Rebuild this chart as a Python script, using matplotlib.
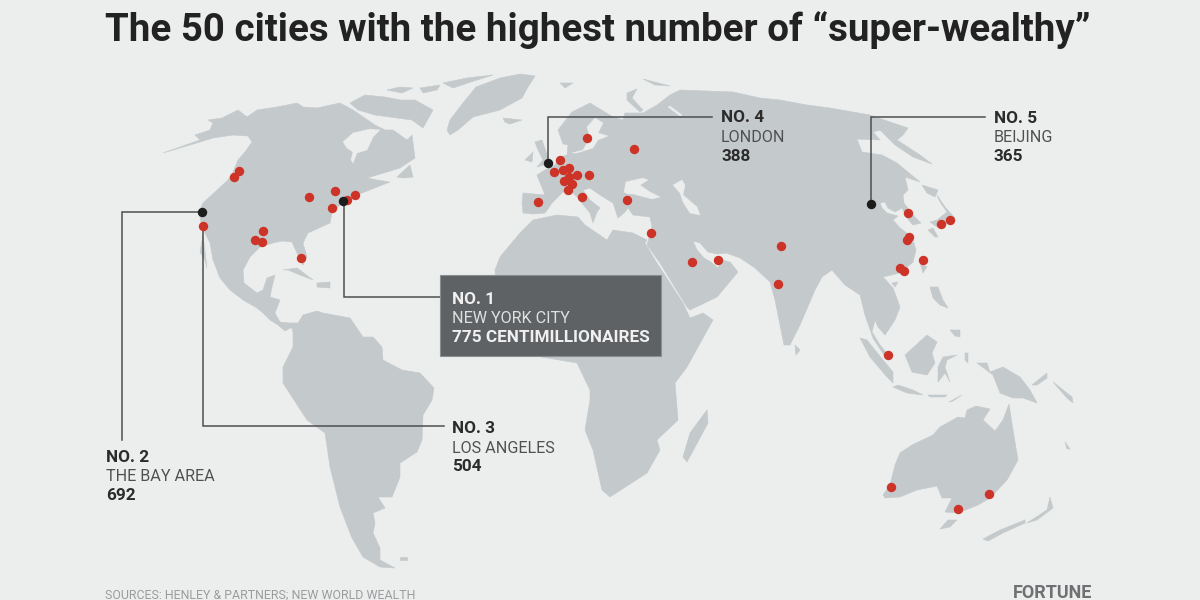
import matplotlib
matplotlib.use('Agg')
import matplotlib.pyplot as plt

BG = '#eceeed'
LAND = '#c4c9cb'
RED = '#cd3327'
DARK = '#1c1c1c'
LINE = '#4c4e50'
NARROW = ['Roboto', 'DejaVu Sans']

# land outlines in pixels
north_america = [(163,153),(200,142),(213,138),(233,135),(248,136),(252,142),(245,152),(238,160),(233,172),(228,180),
    (203,203),(199,212),(202,227),(210,243),(213,260),(220,278),(230,290),(243,300),(257,308),(262,312),(270,320),(278,325),
    (285,331),(294,326),(290,323),(280,322),(275,313),(280,300),(270,297),(272,287),(275,275),(267,278),(263,290),(257,293),
    (244,283),(243,270),(250,257),(260,247),(273,243),(282,241),(292,242),(297,253),(303,265),(307,257),(303,243),(308,233),
    (330,223),(332,213),(343,202),(352,197),(372,189),(390,182),(377,180),(367,178),(387,172),(400,168),(415,158),(412,135),
    (407,140),(393,130),(385,130),(375,125),(353,110),(340,103),(317,108),(303,107),(297,103),(277,107),(257,110),(247,117),
    (238,110),(222,118),(208,120),(213,123),(210,130),(195,135),(200,140)]
south_america = [(290,323),(298,323),(303,315),(317,311),(323,313),(350,318),(363,337),(373,337),(382,347),(383,360),(402,370),
    (420,373),(434,388),(432,400),(423,415),(422,440),(417,452),(400,463),(400,477),(392,497),(378,497),(385,508),(373,513),
    (375,523),(373,533),(380,548),(380,560),(395,568),(380,567),(363,557),(352,538),(340,507),(330,467),(325,433),(307,420),
    (283,383),(283,367),(293,347),(293,332)]
eurasia = [(523,193),(545,195),(537,175),(545,170),(555,165),(560,157),(567,155),(568,145),(563,144),(562,141),(558,130),
    (572,112),(590,103),(613,117),(623,120),(625,113),(643,113),(657,105),(670,95),(680,90),(733,92),
    (760,98),(780,100),(807,105),(830,108),(870,115),(890,122),(908,128),(903,135),(897,140),(920,155),(932,164),(913,157),
    (895,145),(880,130),(873,132),(880,140),(857,139),(862,152),(882,155),(897,163),(920,182),(905,177),(908,190),(903,195),
    (904,203),(913,215),(921,223),(913,225),(907,218),(902,208),(895,212),(888,208),(885,202),(880,203),(882,208),(887,213),
    (898,216),(893,220),(900,228),(912,237),(916,250),(913,262),(900,273),(883,277),(893,288),(900,307),(895,320),(885,335),
    (878,327),(875,320),(872,332),(880,345),(890,357),(884,355),(873,338),(865,315),(860,295),(845,285),(832,270),(822,277),
    (815,290),(800,325),(790,345),(784,345),(775,300),(770,282),(755,268),(740,258),(726,253),(717,254),(708,252),(700,243),
    (693,241),(697,250),(704,258),(711,262),(718,268),(722,260),(730,262),(738,272),(717,297),(690,310),(687,307),(660,263),
    (647,245),(652,227),(650,217),(633,215),(628,208),(625,212),(618,218),(613,203),(600,195),(590,188),(583,190),(590,200),
    (600,208),(597,212),(593,223),(590,213),(577,197),(572,192),(563,192),(552,203),(545,213),(533,214),(523,213),(522,203)]
africa = [(500,257),(520,233),(533,220),(557,215),(578,217),(585,225),(607,240),(613,230),(633,233),(647,240),(645,243),(655,260),
    (668,280),(683,303),(690,318),(703,313),(713,320),(687,367),(675,383),(678,420),(657,440),(660,450),(647,473),(610,497),
    (602,490),(593,450),(585,430),(590,400),(590,390),(577,363),(530,355),(497,310),(495,270)]
australia = [(883,495),(890,485),(895,465),(900,453),(912,445),(933,435),(940,427),(958,417),(965,418),(967,410),(976,406),
    (990,409),(983,420),(995,431),(1003,420),(1009,404),(1013,430),(1018,460),(1007,480),(990,498),(978,505),(958,513),
    (945,512),(952,498),(942,498),(937,486),(917,490),(900,497),(885,498)]
greenland = [(447,130),(450,120),(463,103),(476,87),(500,78),(520,74),(535,76),(528,87),(522,98),(500,110),(473,117),(458,130),(450,135)]
islands = [
    [(350,103),(365,95),(385,97),(400,100),(415,100),(433,110),(423,128),(412,120),(397,118),(375,115),(358,110)],
    [(387,90),(400,87),(413,88),(402,93)],
    [(443,83),(467,78),(493,75),(477,80),(453,88)],
    [(420,88),(440,85),(437,90),(423,93)],
    [(283,270),(297,268),(313,280),(300,275),(288,270)],
    [(317,283),(330,282),(330,288),(317,287)],
    [(203,235),(207,268),(205,260),(200,252)],
    [(397,177),(410,165),(413,177),(403,178)],
    [(400,557),(407,557),(407,560),(400,560)],
    [(707,410),(708,423),(687,462),(683,457),(690,433)],
    [(537,167),(543,160),(538,150),(535,142),(542,140),(550,163)],
    [(525,160),(533,152),(532,162)],
    [(503,118),(522,120),(510,124),(505,122)],
    [(627,93),(637,89),(632,98),(643,110),(640,112),(627,100)],
    [(643,79),(670,86),(655,85)],
    [(560,83),(573,83),(565,88)],
    [(940,529),(948,520),(957,520),(950,527)],
    [(983,539),(1000,530),(1025,520),(1025,523),(1003,533),(988,541)],
    [(1027,523),(1047,510),(1050,497),(1053,508),(1037,520)],
    [(977,363),(987,363),(990,372),(1003,367),(1020,377),(1030,390),(1037,403),(1023,398),(1013,398),(1000,393),(993,375)],
    [(905,355),(927,335),(937,342),(932,353),(935,363),(927,375),(912,372)],
    [(938,382),(938,367),(943,357),(957,355),(947,360),(945,367),(950,382),(945,373)],
    [(860,338),(867,340),(883,360),(893,372),(893,383),(887,377),(870,357)],
    [(893,387),(898,385),(913,390),(923,395),(907,393)],
    [(928,395),(947,395),(945,397),(930,397)],
    [(949,402),(962,395),(953,401)],
    [(965,353),(968,353),(968,363),(965,360)],
    [(950,330),(960,330),(960,337),(955,336)],
    [(930,287),(938,287),(943,300),(948,308),(940,305),(933,298)],
    [(920,263),(927,267),(923,273)],
    [(892,283),(898,282),(895,287)],
    [(795,345),(800,350),(796,355)],
    [(930,222),(937,220),(947,212),(940,202),(937,195),(945,207),(955,218),(947,223),(937,227)],
    [(928,230),(933,228),(938,237),(935,237)],
    [(922,185),(938,190),(935,197),(927,193)],
    [(1032,385),(1047,373),(1047,378),(1037,385)],
    [(1053,382),(1072,397),(1073,403),(1067,398)],
    [(1065,442),(1070,449),(1067,449)],
]
seas = [
    [(624,192),(626,182),(643,178),(648,180),(640,185),(650,192),(660,197),(652,199),(633,194),(628,194)],
    [(673,185),(682,180),(685,185),(683,195),(697,207),(700,215),(690,213),(683,202),(680,193)],
    [(572,153),(583,150),(590,138),(587,127),(595,118),(603,123),(598,133),(608,136),(598,140),(593,148),(577,153)],
    [(343,142),(353,133),(370,129),(380,130),(373,137),(367,150),(357,153),(353,163),(351,160),(353,152),(347,148)],
    [(670,106),(682,115),(680,116),(668,107)],
]

# cities
red_x = [239,234,309,335,332,347,355,203,263,255,262,301,587,634,560,554,563,569,577,589,569,564,572,568,582,538,627,651,692,718,
         781,778,908,941,950,909,907,923,900,904,888,891,958,989]
red_y = [171,177,197,191,208,200,195,226,231,240,242,258,138,149,160,172,170,168,175,175,177,181,184,190,197,202,200,233,262,260,
         246,284,213,224,220,237,240,260,268,271,355,487,509,494]
top5_x = [343,202,548,871]
top5_y = [201,212,163,204]

# leader lines
leader_ny = ([343.7,343.7,440], [201,296.5,296.5])
leader_bay = ([202,122.3,122.3], [212,212,440])
leader_la = ([202.8,202.8,444], [226,426,426])
leader_london = ([547.7,547.7,711.7], [163,116.7,116.7])
leader_beijing = ([871.3,871.3,985], [204,116.7,116.7])

labels = [
    (452, [304.3,323.3,342.3], ['NO. 1','NEW YORK CITY','775 CENTIMILLIONAIRES'], '#f0f0f0', '#dfe1e1'),
    (106, [461.7,481,500], ['NO. 2','THE BAY AREA','692'], '#2b2b2b', '#505050'),
    (452, [433,452.7,471], ['NO. 3','LOS ANGELES','504'], '#2b2b2b', '#505050'),
    (721, [121.7,141.7,160.7], ['NO. 4','LONDON','388'], '#2b2b2b', '#505050'),
    (994, [122.7,141.7,161], ['NO. 5','BEIJING','365'], '#2b2b2b', '#505050'),
]

fig = plt.figure(figsize=(12, 6), dpi=100, facecolor=BG)
ax = fig.add_axes([0, 0, 1, 1])
ax.set_xlim(0, 1200)
ax.set_ylim(600, 0)
ax.axis('off')

for shape in [north_america, south_america, eurasia, africa, australia, greenland] + islands:
    ax.fill(*zip(*shape), facecolor=LAND, edgecolor=LAND, lw=0.4, joinstyle='round', zorder=1)
for shape in seas:
    ax.fill(*zip(*shape), facecolor=BG, edgecolor=BG, lw=0.3, joinstyle='round', zorder=2)

for xs, ys in [leader_ny, leader_bay, leader_la, leader_london, leader_beijing]:
    ax.plot(xs, ys, color=LINE, lw=1.1, solid_joinstyle='miter', zorder=3)

ax.scatter(red_x, red_y, s=46, color=RED, lw=0, zorder=4)
ax.scatter(top5_x, top5_y, s=46, color=DARK, lw=0, zorder=5)

ax.add_patch(plt.Rectangle((439.5, 275), 221.5, 81, facecolor='#5f6264', edgecolor='#8b8f91', lw=0.8, zorder=6))

for x, ys, lines, bold_color, reg_color in labels:
    ax.text(x, ys[0], lines[0], family=NARROW, weight='bold', fontsize=12.3, color=bold_color, va='baseline', zorder=7)
    ax.text(x, ys[1], lines[1], family=NARROW, fontsize=11.6, color=reg_color, va='baseline', zorder=7)
    ax.text(x, ys[2], lines[2], family=NARROW, weight='bold', fontsize=12.3, color=bold_color, va='baseline', zorder=7)

ax.text(105, 41, 'The 50 cities with the highest number of “super-wealthy”', family=NARROW, weight='bold',
        fontsize=27.7, color='#222222', va='baseline')
ax.text(105, 599, 'SOURCES: HENLEY & PARTNERS; NEW WORLD WEALTH', family=NARROW, fontsize=8.9, color='#9a9c9e', va='baseline')
ax.text(1013, 598, 'FORTUNE', family=NARROW, weight='bold', fontsize=13, color='#6f7072', va='baseline')

fig.savefig('out.png', dpi=100, facecolor=BG)
